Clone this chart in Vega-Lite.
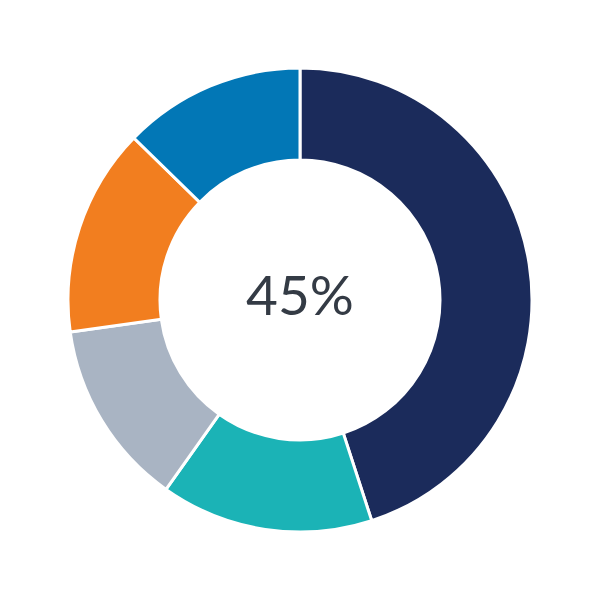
{
  "$schema": "https://vega.github.io/schema/vega-lite/v6.json",
  "width": 600,
  "height": 600,
  "autosize": {"type": "fit", "contains": "padding"},
  "padding": 0,
  "config": {"view": {"stroke": null}},
  "data": {
    "values": [
      {"segment": "A", "value": 45, "rank": 1},
      {"segment": "B", "value": 14.8, "rank": 2},
      {"segment": "C", "value": 13, "rank": 3},
      {"segment": "D", "value": 14.5, "rank": 4},
      {"segment": "E", "value": 12.7, "rank": 5}
    ]
  },
  "layer": [
    {
      "mark": {"type": "arc", "radius": 232, "radius2": 140, "stroke": "white", "strokeWidth": 3},
      "encoding": {
        "theta": {"field": "value", "type": "quantitative", "stack": true},
        "order": {"field": "rank", "type": "quantitative"},
        "color": {
          "field": "segment",
          "type": "nominal",
          "scale": {
            "domain": ["A", "B", "C", "D", "E"],
            "range": ["#1b2b5b", "#1bb3b6", "#a9b4c3", "#f27e1f", "#0277b6"]
          },
          "legend": null
        }
      }
    },
    {
      "data": {"values": [{"label": "45%"}]},
      "mark": {"type": "text", "font": "Lato", "fontWeight": 400, "fontSize": 55, "color": "#343b45", "baseline": "middle", "align": "center", "dy": -2},
      "encoding": {"text": {"field": "label"}}
    }
  ]
}
